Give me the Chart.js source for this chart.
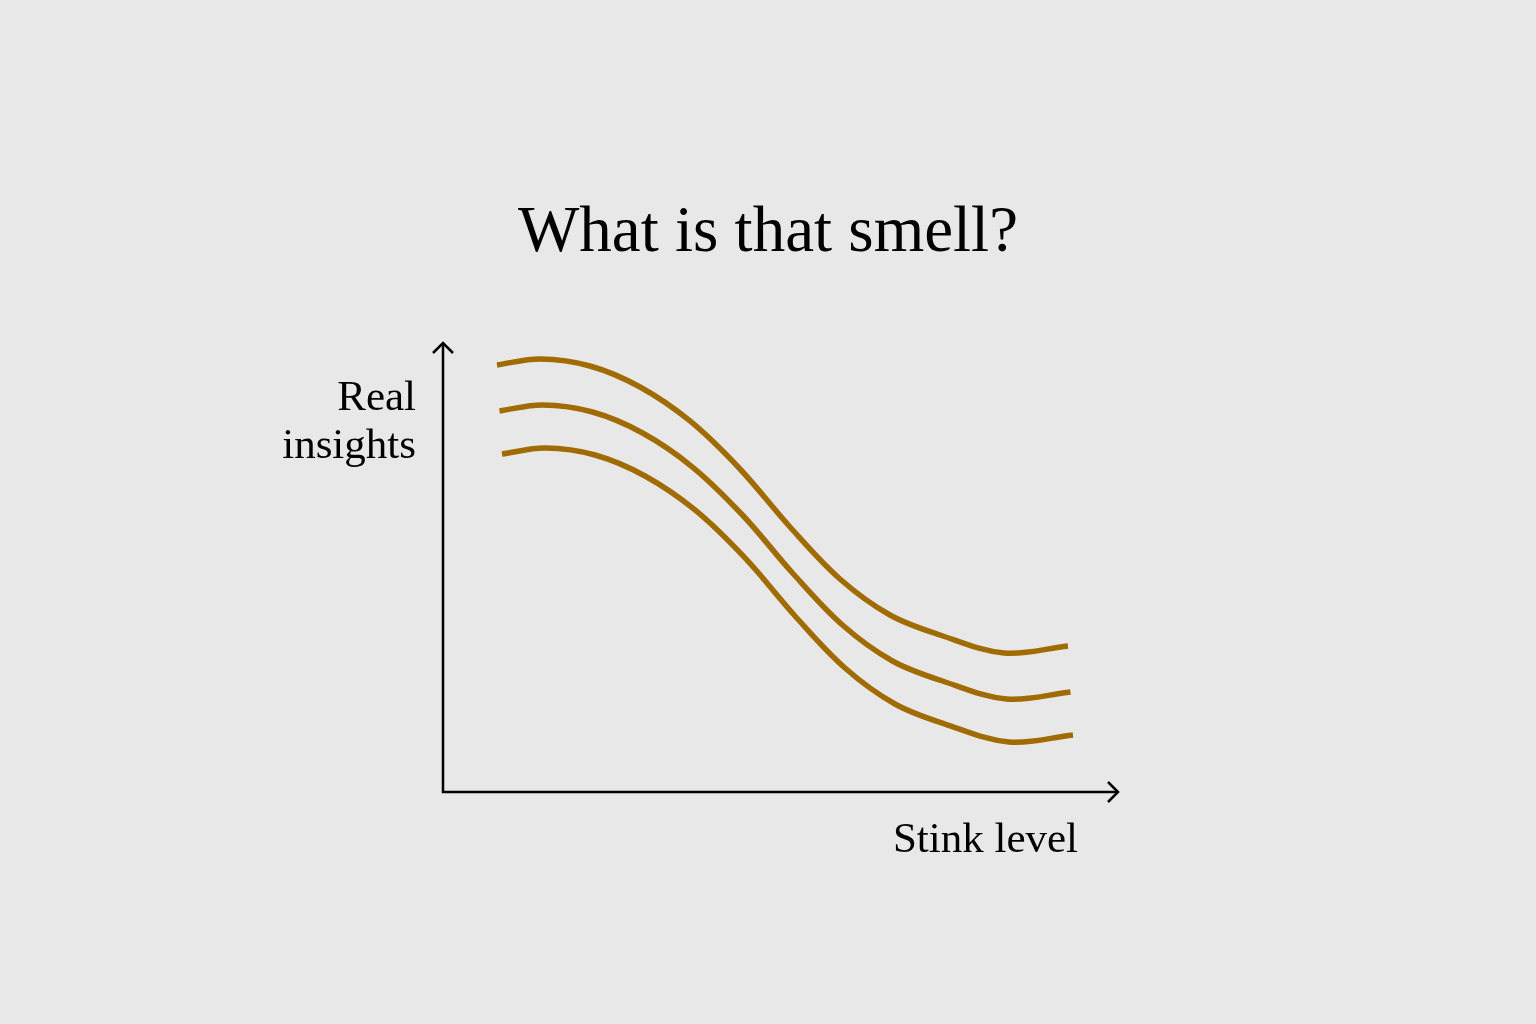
<!DOCTYPE html>
<html>
<head>
<meta charset="utf-8">
<script src="https://cdn.jsdelivr.net/npm/chart.js@4"></script>
<style>
  html, body { margin: 0; padding: 0; background: #e8e8e8; }
  #wrap { width: 1536px; height: 1024px; position: relative; }
</style>
</head>
<body>
<div id="wrap"><canvas id="smellChart"></canvas></div>
<script>
// stink level (x) and real insights (y), axis runs 0..100
const topX = [8.00, 14.37, 21.78, 29.19, 36.59, 44.00, 51.41, 58.81, 66.22, 73.63, 83.11, 92.59];
const topY = [95.10, 96.44, 94.88, 90.20, 82.63, 71.94, 59.02, 47.44, 39.42, 34.97, 30.96, 32.52];

const midX = [8.37, 14.74, 22.15, 29.56, 36.96, 44.37, 51.78, 59.18, 66.59, 74.00, 83.48, 92.96];
const midY = [84.86, 86.19, 84.63, 79.96, 72.38, 61.69, 48.78, 37.19, 29.18, 24.72, 20.71, 22.27];

const lowX = [8.74, 15.11, 22.52, 29.93, 37.33, 44.74, 52.15, 59.55, 66.96, 74.37, 83.85, 93.33];
const lowY = [75.28, 76.61, 75.06, 70.38, 62.81, 52.12, 39.20, 27.62, 19.60, 15.14, 11.14, 12.69];

const titleText = 'What is that smell?';
const yLabel = ['Real', 'insights'];
const xLabel = 'Stink level';

const lineColor = '#a06b00';
const serif = '"Liberation Serif", "DejaVu Serif", serif';

const toPoints = (xs, ys) => xs.map((x, i) => ({ x, y: ys[i] }));

const makeSet = (xs, ys) => ({
  data: toPoints(xs, ys),
  borderColor: lineColor,
  borderWidth: 5.5,
  pointRadius: 0,
  tension: 0.35,
  fill: false
});

// axes with arrow heads plus the text labels
const decorations = {
  id: 'decorations',
  afterDraw(chart) {
    const { ctx, chartArea } = chart;
    const x0 = chart.scales.x.getPixelForValue(0);
    const y0 = chart.scales.y.getPixelForValue(0);
    const xEnd = chartArea.right;
    const yEnd = chartArea.top;

    ctx.save();
    ctx.strokeStyle = '#000';
    ctx.lineWidth = 2.5;
    ctx.beginPath();
    ctx.moveTo(x0, y0);
    ctx.lineTo(x0, yEnd);
    ctx.moveTo(x0 - 1.25, y0);
    ctx.lineTo(xEnd, y0);
    ctx.stroke();

    ctx.beginPath();
    ctx.moveTo(x0 - 10, yEnd + 10);
    ctx.lineTo(x0, yEnd);
    ctx.lineTo(x0 + 10, yEnd + 10);
    ctx.moveTo(xEnd - 10, y0 - 10);
    ctx.lineTo(xEnd, y0);
    ctx.lineTo(xEnd - 10, y0 + 10);
    ctx.stroke();

    ctx.fillStyle = '#000';
    ctx.textBaseline = 'alphabetic';

    ctx.font = '65px ' + serif;
    ctx.textAlign = 'center';
    ctx.fillText(titleText, 768, 251);

    ctx.font = '43px ' + serif;
    ctx.textAlign = 'right';
    ctx.fillText(yLabel[0], x0 - 27, 410);
    ctx.fillText(yLabel[1], x0 - 27, 458);

    ctx.fillText(xLabel, xEnd - 40, 852);
    ctx.restore();
  }
};

new Chart(document.getElementById('smellChart'), {
  type: 'line',
  data: {
    datasets: [makeSet(topX, topY), makeSet(midX, midY), makeSet(lowX, lowY)]
  },
  options: {
    responsive: true,
    maintainAspectRatio: false,
    animation: false,
    layout: { padding: { left: 443, right: 418, top: 343, bottom: 232 } },
    scales: {
      x: { type: 'linear', min: 0, max: 100, display: false },
      y: { type: 'linear', min: 0, max: 100, display: false }
    },
    plugins: {
      legend: { display: false },
      tooltip: { enabled: false },
      title: { display: false }
    },
    clip: false
  },
  plugins: [decorations]
});
</script>
</body>
</html>
